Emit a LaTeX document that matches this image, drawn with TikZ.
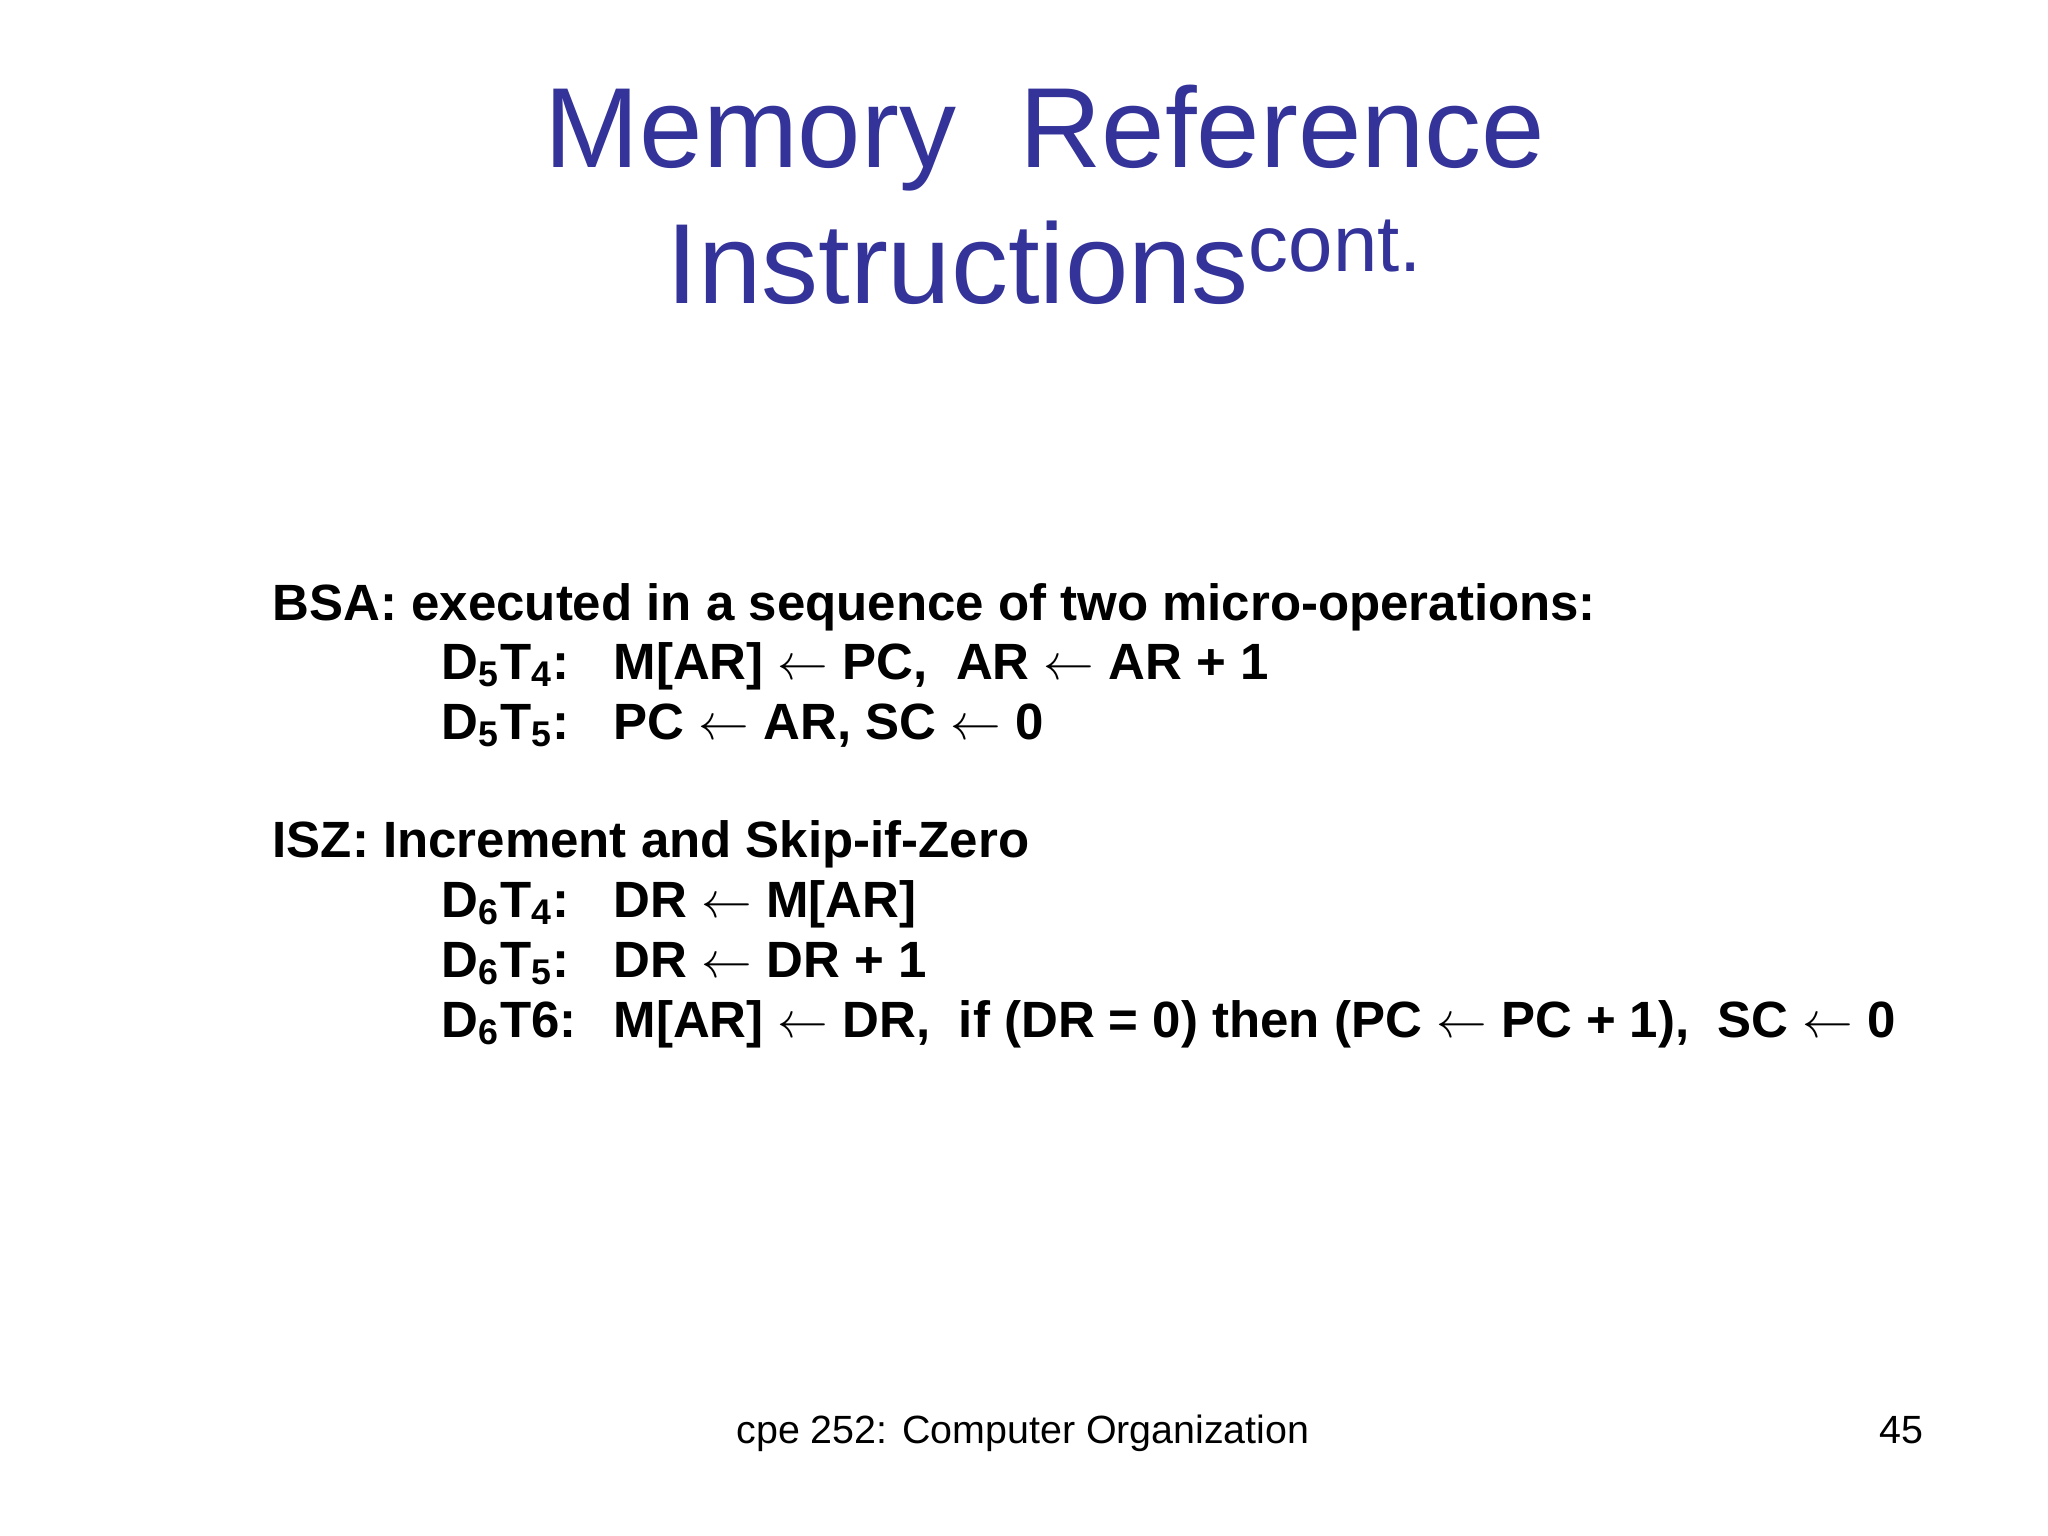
\documentclass[tikz,border=0pt]{standalone}
\usepackage{fontspec}
\setmainfont{Liberation Sans}
\definecolor{titleblue}{RGB}{51,51,153}
\newcommand{\la}{\ensuremath{\leftarrow}}
\begin{document}
\begin{tikzpicture}[x=0.01cm,y=-0.01cm,
  title/.style={anchor=base,text=titleblue,inner sep=0pt,font=\fontsize{32.4}{36}\selectfont},
  body/.style={anchor=base west,inner sep=0pt,font=\bfseries\fontsize{14.5}{18}\selectfont},
  foot/.style={inner sep=0pt,font=\fontsize{11.2}{14}\selectfont}]
\useasboundingbox[fill=white] (0,0) rectangle (2048,1536);
\node[title] (t1) at (1045,167) {Memory\ \ Reference};
\node[title] (t2) at (1045,303) {Instructions\textsuperscript{cont.}};
\node[body] (b1) at (272,620) {BSA: executed in a sequence of two micro-operations:};
\node[body] (b2) at (441,679) {D\textsubscript{5}T\textsubscript{4}:};
\node[body] (b2r) at (613,679) {M[AR] \la{} PC,\ \ AR \la{} AR + 1};
\node[body] (b3) at (441,739) {D\textsubscript{5}T\textsubscript{5}:};
\node[body] (b3r) at (613,739) {PC \la{} AR, SC \la{} 0};
\node[body] (i1) at (272,857) {ISZ: Increment and Skip-if-Zero};
\node[body] (i2) at (441,917) {D\textsubscript{6}T\textsubscript{4}:};
\node[body] (i2r) at (613,917) {DR \la{} M[AR]};
\node[body] (i3) at (441,977) {D\textsubscript{6}T\textsubscript{5}:};
\node[body] (i3r) at (613,977) {DR \la{} DR + 1};
\node[body] (i4) at (441,1037) {D\textsubscript{6}T6:};
\node[body] (i4r) at (613,1037) {M[AR] \la{} DR,\ \ if (DR = 0) then (PC \la{} PC + 1),\ \ SC \la{} 0};
\node[foot,anchor=base] (f1) at (1023,1443) {cpe 252: Computer Organization};
\node[foot,anchor=base east] (f2) at (1924,1443) {45};
\end{tikzpicture}
\end{document}
